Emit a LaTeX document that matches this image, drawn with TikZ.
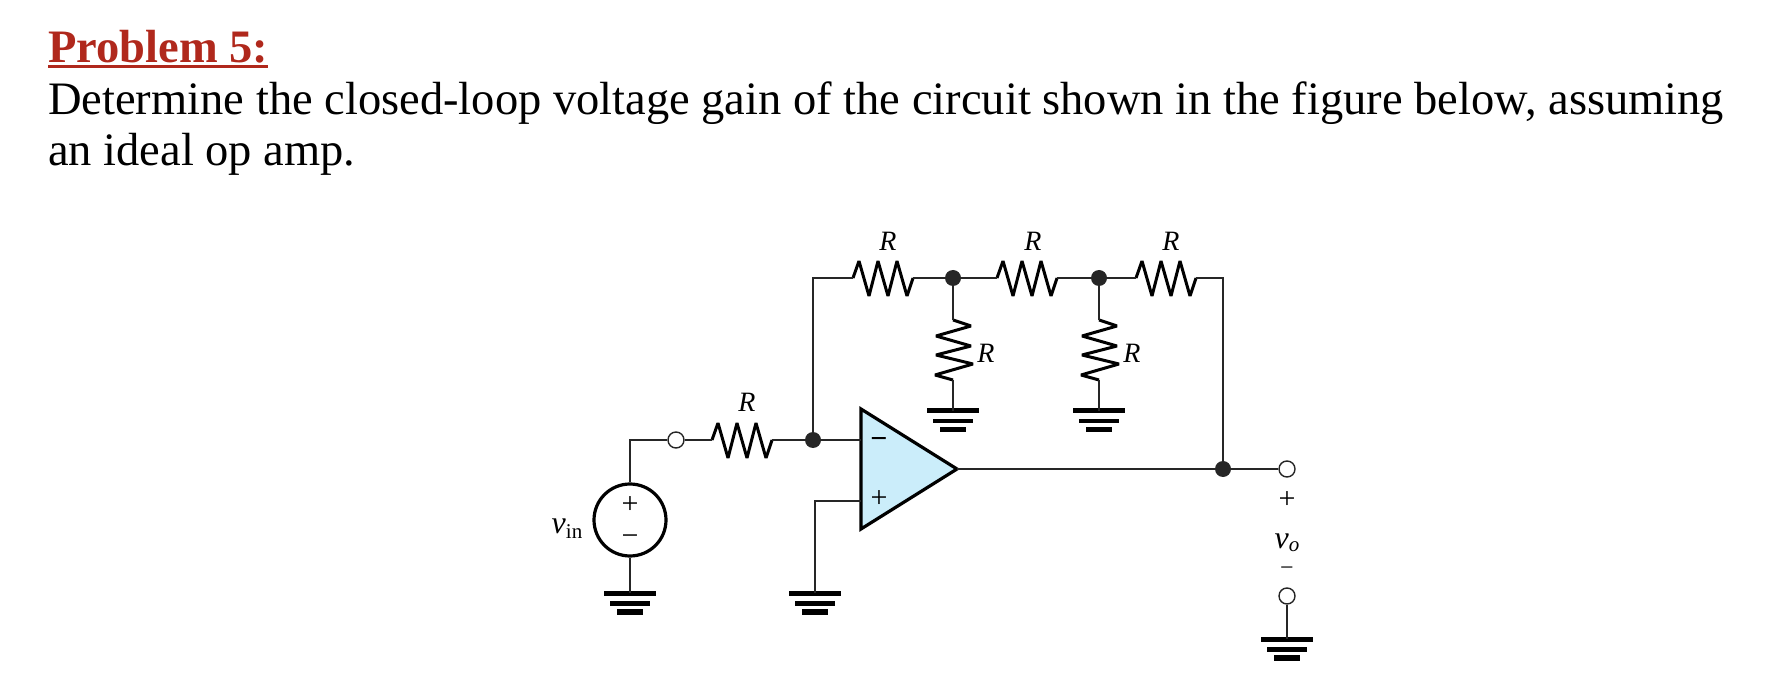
\documentclass[tikz,border=0pt]{standalone}
\usepackage{fontspec}
\setmainfont{Liberation Serif}
\definecolor{probred}{HTML}{B0281C}
\definecolor{ampblue}{HTML}{CBEDFA}
\definecolor{wirecol}{HTML}{262626}
\tikzset{
  x=1pt,y=-1pt,
  wire/.style={draw=wirecol,line width=2pt,line join=miter},
  zig/.style={draw=black,line width=3pt,line join=miter,miter limit=3},
  dotnode/.style={circle,fill=wirecol,draw=none,minimum size=16pt,inner sep=0pt},
  opennode/.style={circle,fill=white,draw=wirecol,line width=1.4pt,minimum size=16pt,inner sep=0pt},
  bodytext/.style={anchor=base west,inner sep=0pt,font=\fontsize{46.5}{50}\selectfont},
  rlabel/.style={inner sep=0pt,font=\fontsize{28}{28}\selectfont\itshape},
  signlabel/.style={inner sep=0pt,font=\fontsize{30}{30}\selectfont},
  hres/.pic={
    \draw[zig] (-30,0) -- (-24,-17) -- (-14,18) -- (-5,-17) -- (5,18) -- (14,-17) -- (24,18) -- (30,0);
    \coordinate (-l) at (-30,0);
    \coordinate (-r) at (30,0);
  },
  vres/.pic={
    \draw[zig] (0,-31) -- (18,-25) -- (-17,-15) -- (18,-5) -- (-17,4) -- (20,13) -- (-18,24) -- (0,29);
    \coordinate (-t) at (0,-31);
    \coordinate (-b) at (0,29);
  },
  gnd/.pic={
    \fill[black] (-26,-2.5) rectangle (26,2.5);
    \fill[black] (-20,8) rectangle (20,12.5);
    \fill[black] (-13,16) rectangle (13,21.5);
    \coordinate (-t) at (0,0);
  },
}
\begin{document}
\begin{tikzpicture}
\useasboundingbox (0,0) rectangle (1778,692);

% text
\node[bodytext,text=probred,font=\fontsize{46.5}{50}\selectfont\bfseries] (title) at (48,63) {Problem 5:};
\draw[probred,line width=3pt] ([yshift=-3.5pt]title.base west) -- ([yshift=-3.5pt]title.base east);
\node[bodytext] (line1) at (48,115) {Determine the closed-loop voltage gain of the circuit shown in the figure below, assuming};
\node[bodytext] (line2) at (48,166) {an ideal op amp.};

% op amp
\coordinate (otl) at (861,409);
\coordinate (obl) at (861,529);
\coordinate (out) at (957,469);
\coordinate (inv) at (861,440);
\coordinate (noninv) at (861,501);
\draw[fill=ampblue,draw=black,line width=3.2pt,line join=miter] (otl) -- (out) -- (obl) -- cycle;
\node[signlabel] (minussign) at (879,443) {\bfseries −};
\node[signlabel] (plussign) at (879,499) {+};

% junctions and terminals
\node[dotnode] (j0) at (813,440) {};
\node[dotnode] (j1) at (953,278) {};
\node[dotnode] (j2) at (1099,278) {};
\node[dotnode] (j3) at (1223,469) {};
\node[opennode] (tin) at (676,440) {};
\node[opennode] (tout) at (1287,469) {};
\node[opennode] (tret) at (1287,596) {};
\node[circle,draw=black,line width=3.2pt,fill=white,minimum size=72pt,inner sep=0pt] (src) at (630,520) {};
\node[signlabel] (srcplus) at (630,505) {+};
\node[signlabel] (srcminus) at (630,540) {−};

% resistors
\pic (r1) at (883,278) {hres};
\pic (r2) at (1027,278) {hres};
\pic (r3) at (1166,278) {hres};
\pic (r4) at (742,440) {hres};
\pic (r5) at (953,351) {vres};
\pic (r6) at (1099,351) {vres};

% grounds
\pic (g1) at (953,411) {gnd};
\pic (g2) at (1099,411) {gnd};
\pic (g3) at (630,593) {gnd};
\pic (g4) at (815,593) {gnd};
\pic (g5) at (1287,639) {gnd};

% corners
\coordinate (c1) at (813,278);
\coordinate (c2) at (1223,278);
\coordinate (c3) at (630,440);
\coordinate (c4) at (815,501);

% wires
\draw[wire] (j0) -- (c1) -- (r1-l);
\draw[wire] (r1-r) -- (j1) -- (r2-l);
\draw[wire] (r2-r) -- (j2) -- (r3-l);
\draw[wire] (r3-r) -- (c2) -- (j3);
\draw[wire] (j1) -- (r5-t);
\draw[wire] (r5-b) -- (g1-t);
\draw[wire] (j2) -- (r6-t);
\draw[wire] (r6-b) -- (g2-t);
\draw[wire] (src) -- (c3) -- (tin);
\draw[wire] (tin) -- (r4-l);
\draw[wire] (r4-r) -- (j0) -- (inv);
\draw[wire] (noninv) -- (c4) -- (g4-t);
\draw[wire] (src) -- (g3-t);
\draw[wire] (out) -- (j3) -- (tout);
\draw[wire,line width=2.6pt] (tret) -- (g5-t);

% labels
\node[rlabel] (lr1) at (888,241) {R};
\node[rlabel] (lr2) at (1033,241) {R};
\node[rlabel] (lr3) at (1171,241) {R};
\node[rlabel] (lr4) at (747,402) {R};
\node[rlabel] (lr5) at (986,353) {R};
\node[rlabel] (lr6) at (1132,353) {R};
\node[inner sep=0pt,anchor=base] (vin) at (567,533) {{\fontsize{32}{32}\selectfont\itshape v}\raisebox{-5pt}{\fontsize{21}{21}\selectfont in}};
\node[signlabel] (oplus) at (1287,500) {+};
\node[inner sep=0pt,anchor=base] (vo) at (1287,548) {{\fontsize{32}{32}\selectfont\itshape v}\raisebox{-3pt}{\fontsize{21}{21}\selectfont\itshape o}};
\node[signlabel,font=\fontsize{24}{24}\selectfont] (ominus) at (1287,571) {−};
\end{tikzpicture}
\end{document}
